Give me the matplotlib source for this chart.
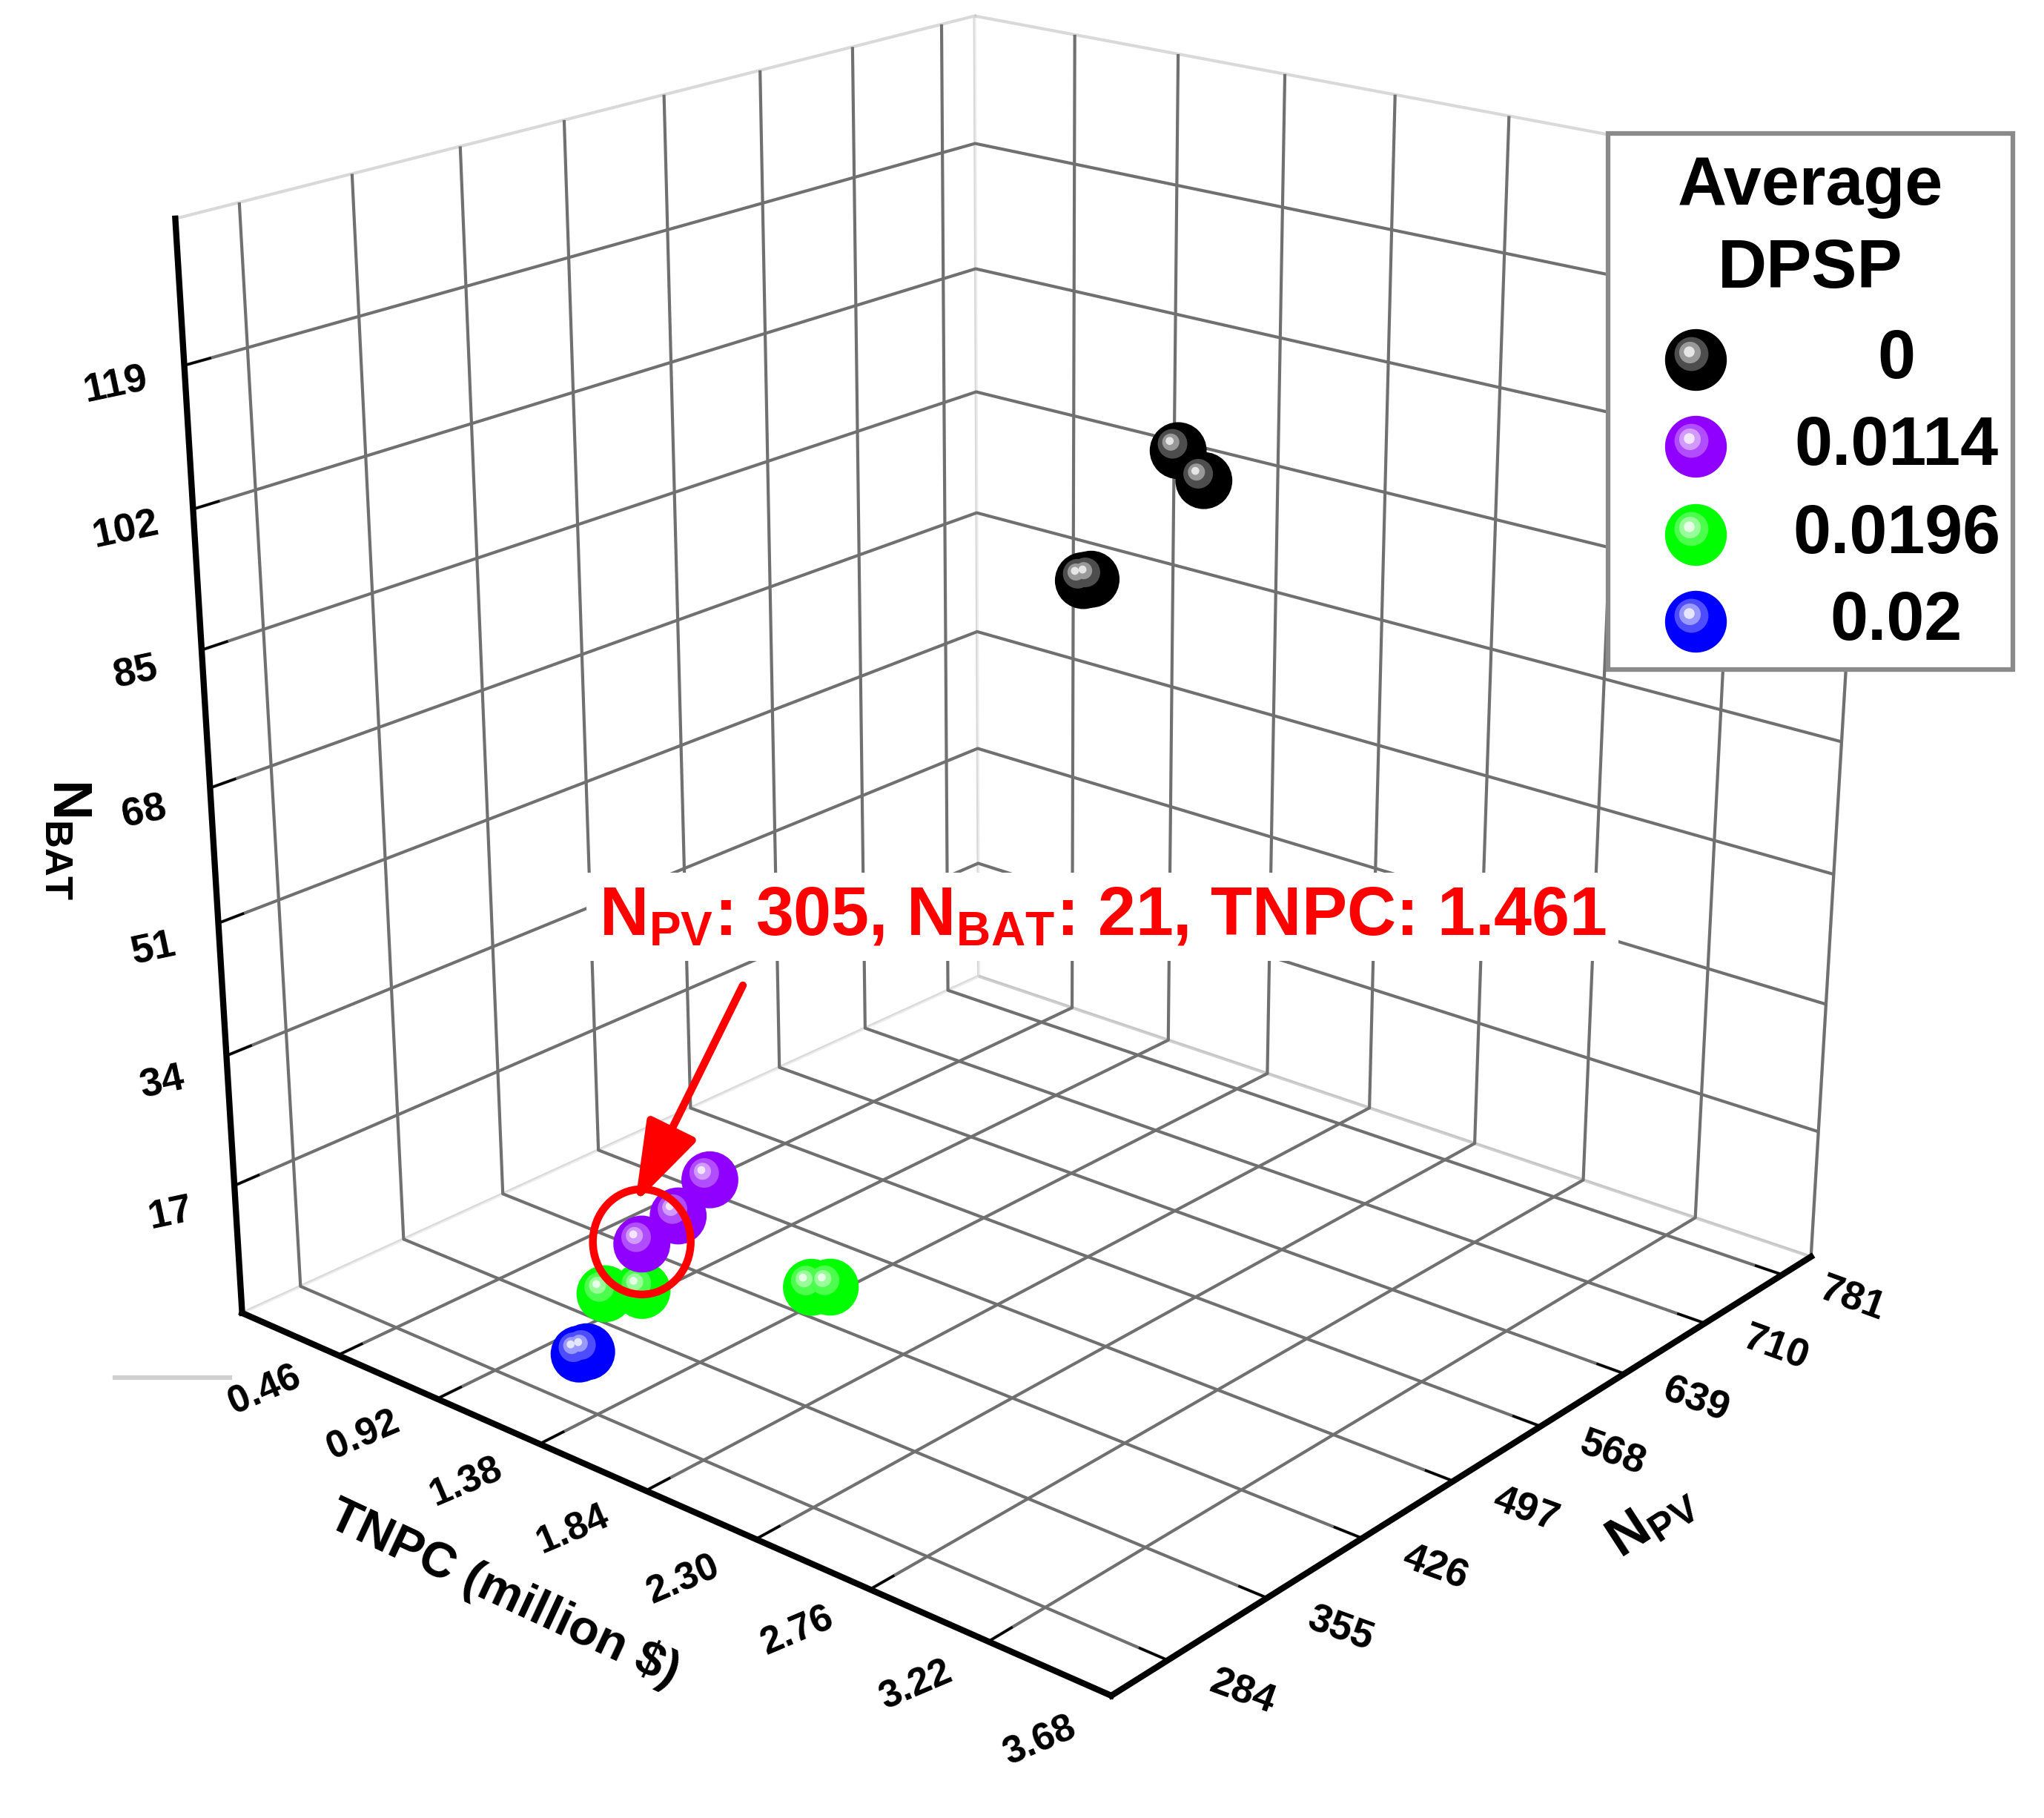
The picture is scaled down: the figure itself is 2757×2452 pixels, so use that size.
import numpy as np
import matplotlib
matplotlib.use('Agg')
import matplotlib.pyplot as plt
from matplotlib.path import Path
from matplotlib.lines import Line2D
from matplotlib.patches import Ellipse, FancyArrowPatch, Rectangle
from mpl_toolkits.mplot3d import proj3d

plt.rcParams['font.family'] = ['Liberation Sans', 'DejaVu Sans']
plt.rcParams['font.weight'] = 'bold'
plt.rcParams['mathtext.fontset'] = 'custom'
plt.rcParams['mathtext.rm'] = 'Liberation Sans:bold'
plt.rcParams['mathtext.bf'] = 'Liberation Sans:bold'
plt.rcParams['mathtext.it'] = 'Liberation Sans:bold'
plt.rcParams['grid.color'] = '#707070'
plt.rcParams['grid.linewidth'] = 1.0
plt.rcParams['axes.linewidth'] = 2.0
plt.rcParams['axes.edgecolor'] = 'black'

# ---------------- data ----------------
groups = ['0', '0.0114', '0.0196', '0.02']
colors = ['#000000', '#8f00ff', '#00ff00', '#0000ff']

black_tnpc = [1.82, 1.87, 1.81, 1.82]
black_npv = [639, 650, 568, 572]
black_nbat = [100, 96, 88, 88]

purple_tnpc = [1.461, 1.526, 1.540]
purple_npv = [305, 320, 340]
purple_nbat = [21, 24, 27]

green_tnpc = [1.384, 1.456, 1.807, 1.851]
green_npv = [291, 305, 366, 372]
green_nbat = [15, 15, 14, 14]

blue_tnpc = [1.347, 1.354]
blue_npv = [278, 282]
blue_nbat = [8, 8]

x_ticks = [0.46, 0.92, 1.38, 1.84, 2.30, 2.76, 3.22, 3.68]
x_ticklabels = ['0.46', '0.92', '1.38', '1.84', '2.30', '2.76', '3.22', '3.68']
y_ticks = [284, 355, 426, 497, 568, 639, 710, 781]
y_ticklabels = ['284', '355', '426', '497', '568', '639', '710', '781']
z_ticks = [17, 34, 51, 68, 85, 102, 119]
z_ticklabels = ['17', '34', '51', '68', '85', '102', '119']

best = (1.461, 305, 21)
annot_text = r'$\mathbf{N_{PV}}$: 305, $\mathbf{N_{BAT}}$: 21, TNPC: 1.461'

# ---------------- figure ----------------
W, H = 2757, 2453
X0, X1, Y0, Y1, Z0, Z1 = 0, 3.68, 245, 808, 0, 136
fig = plt.figure(figsize=(W / 300, H / 300), dpi=300)
ax = fig.add_axes([-0.0411, 0.0299, 1.0697, 1.0697], projection='3d',
                  proj_type='persp', focal_length=0.488)
ax.view_init(elev=20.77, azim=-49.65)
ax.set_box_aspect((1, 0.997, 0.998))
ax.computed_zorder = False

ax.set_xlim(X0, X1)
ax.set_ylim(Y0, Y1)
ax.set_zlim(Z0, Z1)

ax.zaxis.set_ticks_position('lower')

for axis in (ax.xaxis, ax.yaxis, ax.zaxis):
    axis.pane.set_facecolor('white')
    axis.pane.set_edgecolor('#b5b5b5')
    axis.pane.set_linewidth(1.0)
    axis._axinfo['tick']['inward_factor'] = 0.0
    axis._axinfo['tick']['outward_factor'] = 0.35
    axis._axinfo['axisline']['color'] = 'black'
    axis._axinfo['axisline']['linewidth'] = 2.0

# ticks (labels are placed below, in the plane of each axis)
ax.set_xticks(x_ticks)
ax.set_yticks(y_ticks)
ax.set_zticks(z_ticks)
ax.set_xticklabels([])
ax.set_yticklabels([])
ax.set_zticklabels([])
ax.tick_params(axis='both', colors='black', width=1.5)

# sphere-like markers: base + highlight layers
def hl_marker(cx, cy, r):
    return Path.circle(center=(cx, cy), radius=r)

S = 340
def sphere(xs, ys, zs, col, z0):
    ax.scatter(xs, ys, zs, s=S, c=col, depthshade=False, edgecolors='none', zorder=z0)
    lay = [(0.30, -0.10, 0.12, 0.26), (0.60, -0.13, 0.15, 0.15), (0.90, -0.15, 0.17, 0.07)]
    for frac, cx, cy, r in lay:
        base = np.array(matplotlib.colors.to_rgb(col))
        c = base + (1 - base) * frac
        m = max(abs(cx) + r, abs(cy) + r)
        k = 0.5 / m
        ax.scatter(xs, ys, zs, s=S / k ** 2, c=[c], marker=hl_marker(cx, cy, r),
                   depthshade=False, edgecolors='none', zorder=z0 + 0.1)

sphere(black_tnpc, black_npv, black_nbat, colors[0], 5)
sphere(blue_tnpc, blue_npv, blue_nbat, colors[3], 6)
sphere(green_tnpc, green_npv, green_nbat, colors[2], 7)
sphere(purple_tnpc, purple_npv, purple_nbat, colors[1], 8)

# axis titles
fig.text(680 / W, 1 - 2150 / H, 'TNPC (million $)', fontsize=16, fontweight='bold',
         rotation=-25, ha='center', va='center', rotation_mode='anchor')
fig.text(2228 / W, 1 - 2052 / H, r'$\mathbf{N_{PV}}$', fontsize=18,
         rotation=33, ha='center', va='center', rotation_mode='anchor')
fig.text(91 / W, 1 - 1132 / H, r'$\mathbf{N_{BAT}}$', fontsize=18,
         rotation=270, ha='center', va='center', rotation_mode='anchor')

# stray grey line present in the source image
fig.add_artist(Line2D([155 / W, 310 / W], [1 - 1859 / H, 1 - 1859 / H],
                      color='#d0d0d0', lw=1.5))

# legend (manual)
fig.add_artist(Rectangle((2169 / W, 1 - 904 / H), (2715 - 2169) / W, (904 - 181) / H,
                         facecolor='white', edgecolor='#8a8a8a', lw=1.5))
fig.text(2442 / W, 1 - 252 / H, 'Average', fontsize=22, fontweight='bold',
         ha='center', va='center')
fig.text(2442 / W, 1 - 364 / H, 'DPSP', fontsize=22, fontweight='bold',
         ha='center', va='center')
leg_y = [486, 603, 722, 839]
for lab, col, yy in zip(groups, colors, leg_y):
    fig.add_artist(Line2D([2287 / W], [1 - yy / H], marker='o', ms=20, color=col,
                          mec='none', ls='none'))
    base = np.array(matplotlib.colors.to_rgb(col))
    for frac, dx, dy, ms in [(0.30, -6, 8, 11), (0.60, -8, 10, 7), (0.90, -9, 11, 3.5)]:
        c = base + (1 - base) * frac
        fig.add_artist(Line2D([(2287 + dx) / W], [1 - (yy - dy) / H], marker='o', ms=ms,
                              color=c, mec='none', ls='none'))
    fig.text(2558 / W, 1 - yy / H, lab, fontsize=22, fontweight='bold',
             ha='center', va='center')

# projected positions
fig.canvas.draw()

def to_fig(x, y, z):
    px, py, _ = proj3d.proj_transform(x, y, z, ax.get_proj())
    dx, dy = ax.transData.transform((px, py))
    return dx / W, dy / H

# tick labels laid along each axis
for t, lab in zip(x_ticks, x_ticklabels):
    fx, fy = to_fig(t, Y0 - 48, Z0)
    fig.text(fx, fy, lab, fontsize=12.5, fontweight='bold', rotation=23,
             ha='center', va='center', rotation_mode='anchor')
for t, lab in zip(y_ticks, y_ticklabels):
    fx, fy = to_fig(X1 + 0.27, t, Z0)
    fig.text(fx, fy, lab, fontsize=13, fontweight='bold', rotation=-20,
             ha='center', va='center', rotation_mode='anchor')
for t, lab in zip(z_ticks, z_ticklabels):
    fx, fy = to_fig(X0, Y0 - 41, t)
    fig.text(fx, fy, lab, fontsize=13, fontweight='bold', rotation=12,
             ha='center', va='center', rotation_mode='anchor')

# annotation
fx, fy = to_fig(*best)
fig.add_artist(Ellipse((fx, fy + 3 / H), 132 / W, 142 / H, facecolor='none',
                       edgecolor='red', lw=2.5, zorder=20))
fig.add_artist(FancyArrowPatch((1002 / W, 1 - 1330 / H), (fx - 9 / W, fy + 55 / H),
                               transform=fig.transFigure, color='red', lw=2.5,
                               arrowstyle='-|>,head_length=0.75,head_width=0.25',
                               mutation_scale=30, shrinkA=0, shrinkB=0, zorder=20))
fig.text(1487 / W, 1 - 1237 / H, annot_text, fontsize=22, fontweight='bold',
         color='red', ha='center', va='center', zorder=21,
         bbox=dict(facecolor='white', edgecolor='none', pad=4))

fig.savefig('out.png', dpi=300, facecolor='white')
